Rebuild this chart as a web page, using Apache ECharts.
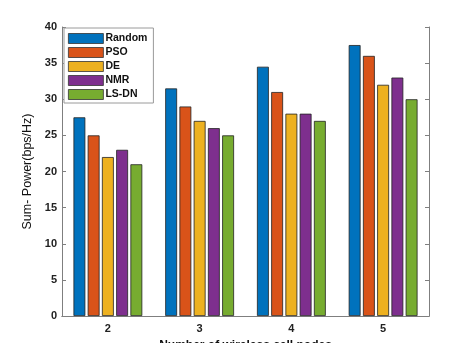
<!DOCTYPE html>
<html>
<head>
<meta charset="utf-8">
<script src="https://cdn.jsdelivr.net/npm/echarts@6/dist/echarts.min.js"></script>
<style>html,body{margin:0;padding:0;background:#fff;}#c{width:474px;height:343px;}</style>
</head>
<body>
<div id="c"></div>
<script>
const categories = ['2', '3', '4', '5'];
const seriesNames = ['Random', 'PSO', 'DE', 'NMR', 'LS-DN'];
const randomVals = [27.5, 31.5, 34.5, 37.5];
const psoVals = [25, 29, 31, 36];
const deVals = [22, 27, 28, 32];
const nmrVals = [23, 26, 28, 33];
const lsdnVals = [21, 25, 27, 30];
const yTicks = [0, 5, 10, 15, 20, 25, 30, 35, 40];

const colors = ['#0072BD', '#D95319', '#EDB120', '#7E2F8E', '#77AC30'];
const allVals = [randomVals, psoVals, deVals, nmrVals, lsdnVals];
const font = 'Arial, "Liberation Sans", Helvetica, sans-serif';
const axisGray = '#7f7f7f';

const chart = echarts.init(document.getElementById('c'), null, {renderer: 'canvas'});
chart.setOption({
  animation: false,
  backgroundColor: '#fff',
  grid: {left: 62, right: 45, top: 27, bottom: 27, containLabel: false, outerBoundsMode: 'none'},
  legend: {
    orient: 'vertical', left: 64, top: 28,
    data: seriesNames,
    itemWidth: 35, itemHeight: 10, itemGap: 3,
    padding: [5, 6, 3, 4],
    borderColor: '#9a9a9a', borderWidth: 1,
    backgroundColor: '#fff',
    icon: 'rect',
    itemStyle: {borderWidth: 0.8, borderColor: '#333'},
    textStyle: {fontFamily: font, fontWeight: 'bold', fontSize: 10.5, lineHeight: 10, color: '#111', padding: [0, 0, 0, -3]}
  },
  xAxis: [{
    type: 'category', data: categories, position: 'bottom',
    name: 'Number of wireless cell nodes', nameLocation: 'middle', nameGap: 24,
    nameTextStyle: {fontFamily: font, fontWeight: 'bold', fontSize: 12, color: '#111', verticalAlign: 'top'},
    axisLine: {lineStyle: {color: axisGray, width: 1}},
    axisTick: {inside: true, alignWithLabel: true, length: 4, lineStyle: {color: axisGray}},
    axisLabel: {fontFamily: font, fontWeight: 'bold', fontSize: 11, color: '#222', margin: 7},
    splitLine: {show: false}
  }, {
    type: 'category', data: categories, position: 'top',
    axisLine: {lineStyle: {color: axisGray, width: 1}},
    axisTick: {inside: true, alignWithLabel: true, length: 4, lineStyle: {color: axisGray}},
    axisLabel: {show: false}
  }],
  yAxis: [{
    type: 'value', min: 0, max: 40, interval: 5, position: 'left',
    name: 'Sum- Power(bps/Hz)', nameLocation: 'middle', nameGap: 23,
    nameTextStyle: {fontFamily: font, fontSize: 12.5, color: '#111'},
    axisLine: {show: true, lineStyle: {color: axisGray, width: 1}},
    axisTick: {show: true, inside: true, length: 4, lineStyle: {color: axisGray}},
    axisLabel: {fontFamily: font, fontWeight: 'bold', fontSize: 11, color: '#222', margin: 5,
      formatter: v => yTicks.includes(v) ? String(v) : ''},
    splitLine: {show: false}
  }, {
    type: 'value', min: 0, max: 40, interval: 5, position: 'right',
    axisLine: {show: true, lineStyle: {color: axisGray, width: 1}},
    axisTick: {show: true, inside: true, length: 4, lineStyle: {color: axisGray}},
    axisLabel: {show: false},
    splitLine: {show: false}
  }],
  series: seriesNames.map((n, i) => ({
    name: n, type: 'bar', xAxisIndex: 0, yAxisIndex: 0,
    data: allVals[i],
    barCategoryGap: '25%', barGap: '20%',
    itemStyle: {color: colors[i], borderColor: '#222', borderWidth: 0.8}
  }))
});
</script>
</body>
</html>
